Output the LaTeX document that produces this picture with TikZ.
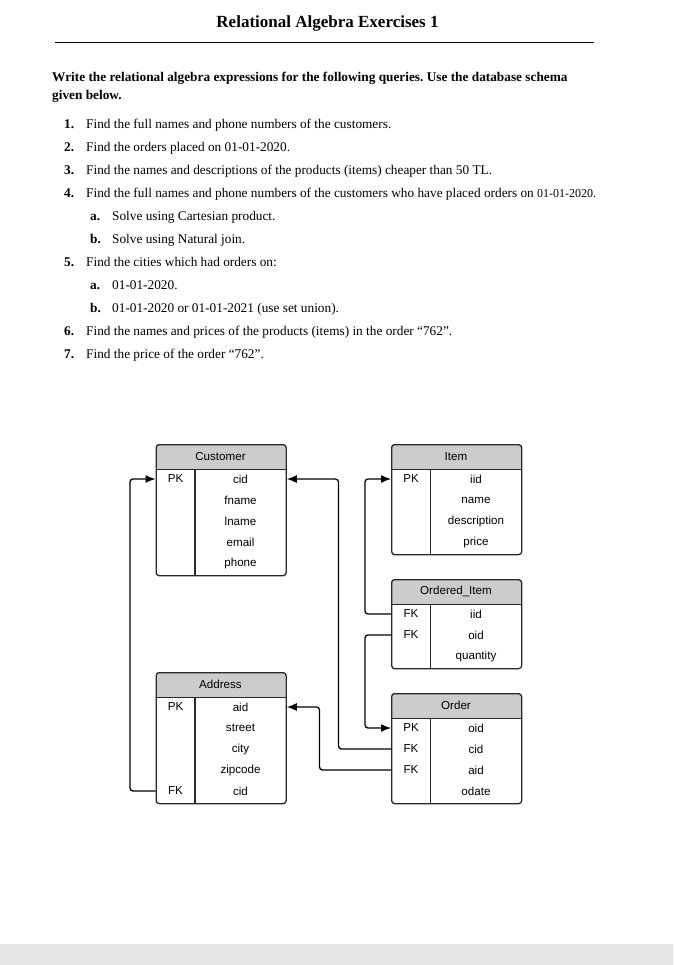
\documentclass[tikz,border=0pt]{standalone}
\usepackage{fontspec}
\setmainfont{Liberation Serif}
\newfontfamily\arialfont{Liberation Sans}
\usetikzlibrary{arrows.meta}
\frenchspacing
\definecolor{hdrgray}{RGB}{204,204,204}
\definecolor{linegray}{RGB}{40,40,40}
\definecolor{bandgray}{RGB}{229,229,229}
\tikzset{
  txt/.style={anchor=base west, inner sep=0pt, font=\fontsize{13.3}{16}\selectfont},
  numtxt/.style={txt, font=\fontsize{13.3}{16}\selectfont\bfseries},
  titletxt/.style={anchor=base, inner sep=0pt, font=\fontsize{17}{20}\selectfont\bfseries},
  tblbox/.style={draw=linegray, line width=1.3pt, rounded corners=3pt, inner sep=0pt},
  tblline/.style={draw=linegray, line width=1.3pt},
  celltxt/.style={inner sep=0pt, font=\arialfont\fontsize{11.6}{13}\selectfont},
  conn/.style={draw=black, line width=1.3pt, rounded corners=3pt},
  fk/.style={conn, -{Latex[length=10pt,width=8pt]}},
}
% #1 name, #2 left, #3 top, #4 number of rows, #5 title, #6 key/field list
\newcommand{\ertbl}[6]{%
  \pgfmathsetmacro{\tbh}{25.5+9.5+21*(#4-1)+12}%
  \begin{scope}
    \clip[rounded corners=3pt] (#2,#3) rectangle ++(130,\tbh);
    \fill[hdrgray] (#2,#3) rectangle ++(130,25.5);
  \end{scope}
  \node[tblbox, minimum width=130pt, minimum height=\tbh pt, anchor=north west] (#1) at (#2,#3) {};
  \node[celltxt] (#1-title) at (#2+65,#3+12.5) {#5};
  \draw[tblline] (#2,#3+25.5) -- (#2+130,#3+25.5);
  \draw[tblline] (#2+39.5,#3+25.5) -- (#2+39.5,#3+\tbh);
  \foreach \k/\f [count=\i] in {#6} {
    \node[celltxt] (#1-k\i) at (#2+20,#3+35+21*\i-21) {\k};
    \node[celltxt] (#1-f\i) at (#2+85,#3+35+21*\i-21) {\f};
  }
}
\begin{document}
\begin{tikzpicture}[x=1pt,y=-1pt]
\useasboundingbox (0,0) rectangle (673,965);
\fill[white] (0,0) rectangle (673,965);
\fill[bandgray] (0,944) rectangle (673,965);

% heading
\node[titletxt] (title) at (327.5,27.5) {Relational Algebra Exercises 1};
\coordinate (ruleL) at (55,43);
\coordinate (ruleR) at (594,43);
\draw[line width=1pt] (ruleL) -- (ruleR);

\node[numtxt] (intro1) at (52,82) {Write the relational algebra expressions for the following queries. Use the database schema};
\node[numtxt] (intro2) at (52,100) {given below.};

% questions
\node[numtxt] (n1) at (64,129) {1.};
\node[txt] (q1) at (86,129) {Find the full names and phone numbers of the customers.};
\node[numtxt] (n2) at (64,151.9) {2.};
\node[txt] (q2) at (86,151.9) {Find the orders placed on 01-01-2020.};
\node[numtxt] (n3) at (64,174.8) {3.};
\node[txt] (q3) at (86,174.8) {Find the names and descriptions of the products (items) cheaper than 50 TL.};
\node[numtxt] (n4) at (64,197.7) {4.};
\node[txt] (q4) at (86,197.7) {Find the full names and phone numbers of the customers who have placed orders on {\fontsize{12}{14}\selectfont 01-01-2020.}};
\node[numtxt] (n4a) at (90,220.6) {a.};
\node[txt] (q4a) at (112,220.6) {Solve using Cartesian product.};
\node[numtxt] (n4b) at (90,243.5) {b.};
\node[txt] (q4b) at (112,243.5) {Solve using Natural join.};
\node[numtxt] (n5) at (64,266.4) {5.};
\node[txt] (q5) at (86,266.4) {Find the cities which had orders on:};
\node[numtxt] (n5a) at (90,289.3) {a.};
\node[txt] (q5a) at (112,289.3) {01-01-2020.};
\node[numtxt] (n5b) at (90,312.2) {b.};
\node[txt] (q5b) at (112,312.2) {01-01-2020 or 01-01-2021 (use set union).};
\node[numtxt] (n6) at (64,335.1) {6.};
\node[txt] (q6) at (86,335.1) {Find the names and prices of the products (items) in the order “762”.};
\node[numtxt] (n7) at (64,358) {7.};
\node[txt] (q7) at (86,358) {Find the price of the order “762”.};

% tables
\ertbl{cust}{155.5}{444}{5}{Customer}{PK/cid,/fname,/lname,/email,/phone}
\ertbl{item}{391}{444}{4}{Item}{PK/iid,/name,/description,/price}
\ertbl{oitem}{391}{579}{3}{Ordered\_Item}{FK/iid,FK/oid,/quantity}
\ertbl{addr}{155.5}{672}{5}{Address}{PK/aid,/street,/city,/zipcode,FK/cid}
\ertbl{ord}{391}{693}{4}{Order}{PK/oid,FK/cid,FK/aid,/odate}

% connectors
\draw[fk] (addr-k5 -| addr.west) -- ++(-25.5,0) |- (cust-k1 -| cust.west);
\draw[fk] (ord-k2 -| ord.west) -- ++(-52.5,0) |- (cust-k1 -| cust.east);
\draw[fk] (ord-k3 -| ord.west) -- ++(-71.5,0) |- (addr-k1 -| addr.east);
\draw[fk] (oitem-k1 -| oitem.west) -- ++(-26,0) |- (item-k1 -| item.west);
\draw[fk] (oitem-k2 -| oitem.west) -- ++(-26,0) |- (ord-k1 -| ord.west);
\end{tikzpicture}
\end{document}
